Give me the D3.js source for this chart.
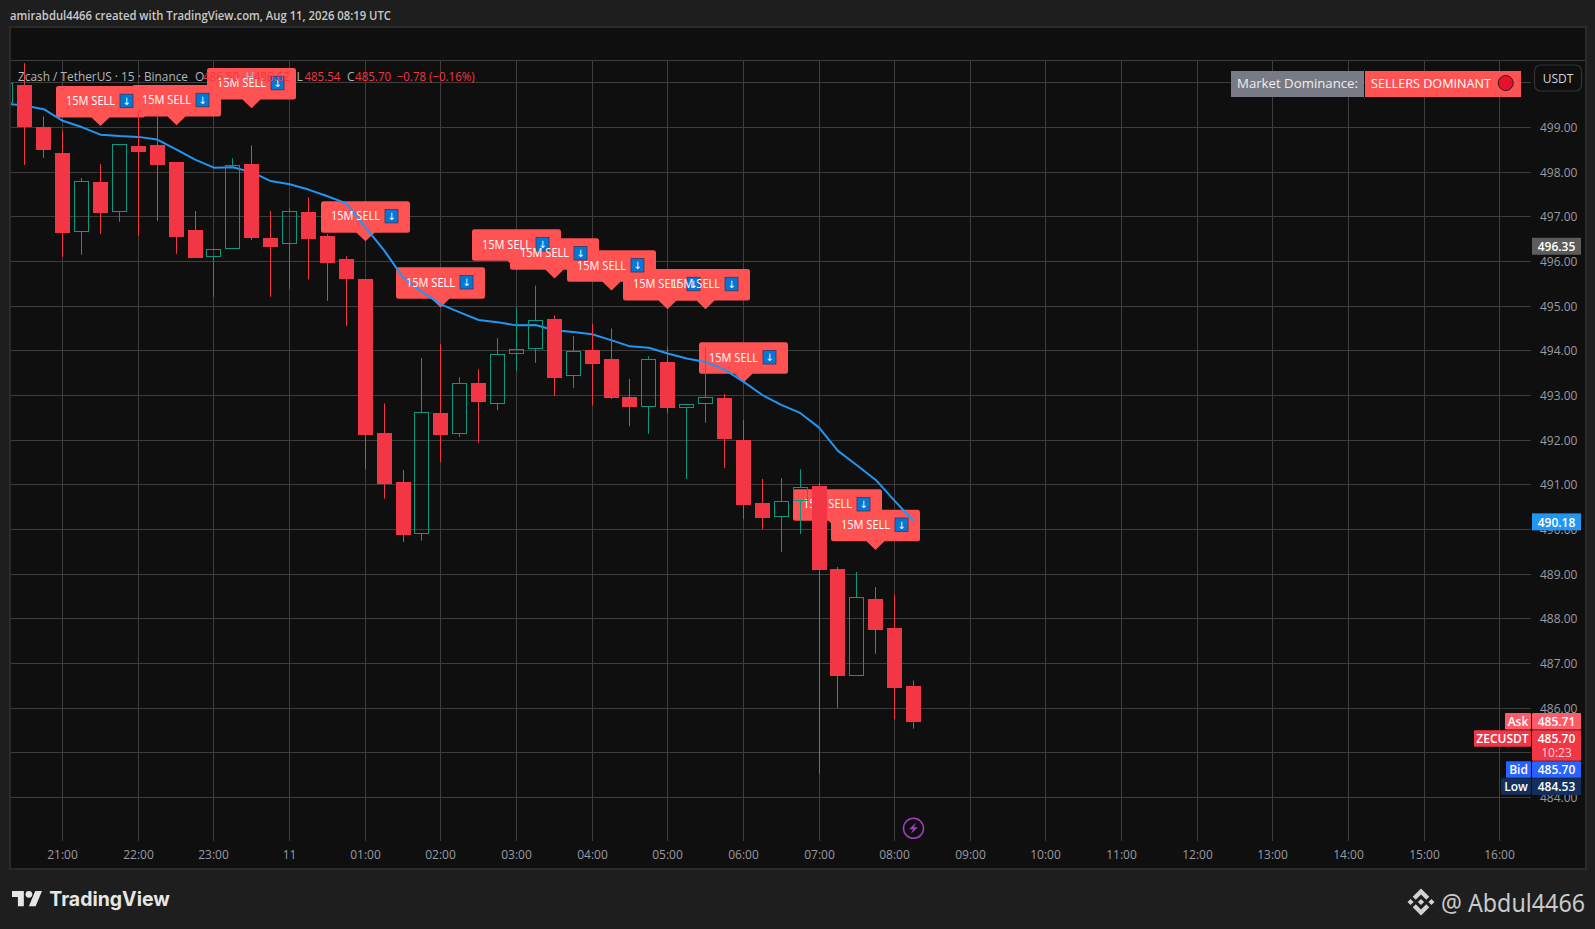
<!DOCTYPE html>
<html><head><meta charset="utf-8">
<script src="https://cdn.jsdelivr.net/npm/d3@7/dist/d3.min.js"></script>
<style>html,body{margin:0;padding:0;background:#1e1e1e;overflow:hidden}svg{display:block}</style>
</head><body><svg id="c" width="1595" height="929"></svg>
<script>
// Candle values, bar index 0 = 20:30, 15 minutes per bar; bar -1 is cut by the pane edge
const firstBar = -1;
const opens  = [499.54,499.95,499.01,498.42,496.65,497.78,497.10,498.58,498.60,498.22,496.70,496.09,496.29,498.18,496.52,496.40,497.10,496.57,496.05,495.60,492.16,491.06,489.89,492.60,492.13,493.28,492.80,493.94,494.03,494.71,493.43,494.02,493.81,492.96,492.75,493.76,492.73,492.82,492.94,492.00,490.59,490.27,490.63,490.98,489.11,486.73,488.44,487.79,486.50];
const highs  = [499.99,500.44,499.25,498.94,497.87,498.18,498.62,499.37,499.30,498.22,497.13,496.29,498.31,498.60,497.13,497.19,497.44,496.61,496.12,495.60,492.82,491.33,493.84,494.15,493.41,493.59,494.28,494.98,495.46,494.79,494.33,494.61,494.50,493.37,493.88,494.10,492.82,494.09,493.03,492.45,491.13,491.15,491.35,491.05,489.16,489.05,488.71,488.55,486.62];
const lows   = [499.54,498.16,498.32,496.10,496.15,496.62,496.89,496.57,496.91,496.17,496.08,495.21,496.29,496.48,495.21,495.39,495.60,495.12,494.56,491.36,490.69,489.72,489.75,491.51,492.07,491.94,492.67,493.55,493.73,492.99,493.17,492.78,492.92,492.31,492.14,492.61,491.13,492.39,491.38,490.23,490.01,489.50,489.90,484.53,486.01,486.73,487.22,485.75,485.54];
const closes = [499.99,499.01,498.50,496.64,497.81,497.09,498.62,498.45,498.16,496.54,496.08,496.29,498.17,496.53,496.33,497.12,496.51,495.97,495.61,492.12,491.02,489.88,492.64,492.11,493.29,492.85,493.94,494.03,494.70,493.39,494.00,493.71,492.95,492.74,493.81,492.72,492.82,492.96,492.03,490.54,490.26,490.63,490.96,489.10,486.72,488.50,487.75,486.45,485.70];
const emaValues = [499.53,499.49,499.41,499.15,499.01,498.84,498.81,498.79,498.73,498.51,498.28,498.10,498.11,498.00,497.80,497.73,497.61,497.46,497.30,496.77,496.25,495.64,495.32,495.04,494.86,494.69,494.64,494.57,494.58,494.46,494.42,494.37,494.24,494.10,494.07,493.94,493.83,493.75,493.58,493.31,493.01,492.79,492.61,492.28,491.76,491.44,491.11,490.64,490.19];

const signalBars   = [4,8,12,18,22,26,28,31,34,36,38,43,45];
const signalPrices = [499.02,499.04,499.42,496.44,494.96,495.81,495.61,495.34,494.92,494.92,493.28,489.99,489.53];
const signalText = "15M SELL";
const signalIcon = "↓";

const timeTickBars   = [2,6,10,14,18,22,26,30,34,38,42,46,50,54,58,62,66,70,74,78];
const timeTickLabels = ["21:00","22:00","23:00","11","01:00","02:00","03:00","04:00","05:00","06:00","07:00","08:00","09:00","10:00","11:00","12:00","13:00","14:00","15:00","16:00"];
const priceTicks = [484,485,486,487,488,489,490,491,492,493,494,495,496,497,498,499,500];

const headerText = "amirabdul4466 created with TradingView.com, Aug 11, 2026 08:19 UTC";
const legendName = "Zcash / TetherUS · 15 · Binance";
const legendOHLC = [["O","486.50"],["H","486.62"],["L","485.54"],["C","485.70"]];
const legendChange = "−0.78 (−0.16%)";
const priceTags = [
  {price:496.35,text:"496.35",fill:"#5c5c5c",color:"#ffffff"},
  {price:490.18,text:"490.18",fill:"#2196f3",color:"#ffffff"}
];

const C = {outer:"#1e1e1e",pane:"#0f0f0f",frame:"#2a2a2a",grid:"#3e3e3e",up:"#089981",down:"#f23645",ema:"#2196f3",sig:"#ff5252",txt:"#b2b5be",axis:"#999ba3"};
const FONT = "'Open Sans','Noto Sans',sans-serif";

const svg = d3.select("#c").style("font-family",FONT);
const x = d3.scaleLinear().domain([2,46]).range([62.7,894.7]);
const y = d3.scaleLinear().domain([499,484]).range([127.5,797.5]);
const px = v => Math.floor(v);
const barIdx = d3.range(opens.length).map(k => k + firstBar);

function label(g,tx,ty,s,o={}){
  const t = g.append("text").attr("x",tx).attr("y",ty).text(s)
    .attr("font-size",o.size||12).attr("fill",o.fill||C.txt)
    .attr("dominant-baseline","central")
    .attr("text-anchor",o.anchor||"start")
    .attr("font-weight",o.weight||400);
  if(o.len) t.attr("textLength",o.len).attr("lengthAdjust","spacingAndGlyphs");
  return t;
}

// page and pane
svg.append("rect").attr("width",1595).attr("height",929).attr("fill",C.outer);
svg.append("rect").attr("x",10).attr("y",27).attr("width",1576).attr("height",842)
  .attr("fill",C.pane).attr("stroke",C.frame).attr("stroke-width",2);
svg.append("line").attr("x1",11).attr("x2",1585).attr("y1",60.5).attr("y2",60.5).attr("stroke",C.grid);

const defs = svg.append("defs");
defs.append("clipPath").attr("id","pane").append("rect").attr("x",11).attr("y",61).attr("width",1520).attr("height",780);

// grid with axes
const gx = svg.append("g").attr("transform","translate(0,841)").call(
  d3.axisBottom(x).tickValues(timeTickBars).tickSize(-780).tickPadding(8)
    .tickFormat((d,i)=>timeTickLabels[i]));
gx.select(".domain").remove();
gx.selectAll(".tick").attr("transform",d=>`translate(${px(x(d))+.5},0)`);
gx.selectAll(".tick line").attr("stroke",C.grid);
gx.selectAll(".tick text").attr("fill",C.axis).attr("font-size",12).attr("font-family",FONT).attr("dy",".85em");

const gy = svg.append("g").attr("transform","translate(1531,0)").call(
  d3.axisRight(y).tickValues(priceTicks).tickSize(-1520).tickPadding(9)
    .tickFormat(d=>d.toFixed(2)));
gy.select(".domain").remove();
gy.selectAll(".tick").attr("transform",d=>`translate(0,${px(y(d))+.5})`);
gy.selectAll(".tick line").attr("stroke",C.grid);
gy.selectAll(".tick text").attr("fill",C.axis).attr("font-size",12).attr("font-family",FONT).attr("transform","translate(0,1)");

// chart layers: signal boxes, EMA, signal text, candles
const plot = svg.append("g").attr("clip-path","url(#pane)");
const BW=89,BH=31.5,TIP=8.7;
const signals = d3.zip(signalBars,signalPrices);
plot.append("g").selectAll("path").data(signals).join("path").attr("fill",C.sig)
  .attr("d",([b,p])=>{
    const cx=px(x(b))+.5, ty=y(p)-.5, top=ty-TIP-BH, l=cx-BW/2, r=cx+BW/2, bot=ty-TIP, a=2.5;
    return `M${l+a},${top}H${r-a}Q${r},${top} ${r},${top+a}V${bot-a}Q${r},${bot} ${r-a},${bot}H${cx+9}L${cx},${ty}L${cx-9},${bot}H${l+a}Q${l},${bot} ${l},${bot-a}V${top+a}Q${l},${top} ${l+a},${top}Z`;
  });
plot.append("path").attr("fill","none").attr("stroke",C.ema).attr("stroke-width",2)
  .attr("stroke-linejoin","round")
  .attr("d",d3.line().x((d,k)=>x(barIdx[k])).y(d=>y(d))(emaValues));
const st = plot.append("g");
signals.forEach(([b,p])=>{
  const cx=px(x(b))+.5, mid=y(p)-.5-TIP-BH/2, l=cx-BW/2;
  label(st,l+10,mid-1,signalText,{fill:"#ffffff",size:12,len:49});
  st.append("rect").attr("x",l+64).attr("y",mid-7.5).attr("width",13).attr("height",13.5)
    .attr("fill","#0078d7").attr("stroke","#3f3557").attr("stroke-width",.8);
  label(st,l+70.5,mid-0.5,signalIcon,{fill:"#ffffff",size:10,anchor:"middle"}).attr("font-family","'DejaVu Sans'");
});
const candles = plot.append("g").selectAll("g").data(barIdx).join("g");
candles.each(function(b,k){
  const g=d3.select(this), up=closes[k]>=opens[k], col=up?C.up:C.down, cx=px(x(b));
  const t=Math.round(y(Math.max(opens[k],closes[k]))), bo=Math.round(y(Math.min(opens[k],closes[k])));
  if(up){
    // hollow body: the wick stops at the body edges
    g.append("line").attr("x1",cx+.5).attr("x2",cx+.5).attr("stroke",col).attr("y1",y(highs[k])).attr("y2",t);
    g.append("line").attr("x1",cx+.5).attr("x2",cx+.5).attr("stroke",col).attr("y1",bo).attr("y2",y(lows[k]));
    g.append("rect").attr("x",cx-7+.5).attr("y",t+.5).attr("width",14).attr("height",Math.max(bo-t-1,1))
      .attr("fill","none").attr("stroke",col);
  } else {
    g.append("line").attr("x1",cx+.5).attr("x2",cx+.5).attr("stroke",col).attr("y1",y(highs[k])).attr("y2",y(lows[k]));
    g.append("rect").attr("x",cx-7).attr("y",t).attr("width",15).attr("height",Math.max(bo-t,1)).attr("fill",col);
  }
});

// top caption and chart legend
label(svg,10,15,headerText,{fill:"#c9c9c9",size:12,weight:600,len:381});
let lg = svg.append("g");
label(lg,18,76,legendName,{fill:C.txt,len:170});
let lx=195;
legendOHLC.forEach(([k,v])=>{
  label(lg,lx,76,k,{fill:C.txt});
  label(lg,lx+8,76,v,{fill:C.down,len:36});
  lx+=50.7;
});
label(lg,396.7,76,legendChange,{fill:C.down,len:78});

// market dominance
const md = svg.append("g");
md.append("rect").attr("x",1231).attr("y",71).attr("width",133).attr("height",26).attr("fill","#787b86");
md.append("rect").attr("x",1365).attr("y",71).attr("width",156).attr("height",26).attr("fill",C.sig);
label(md,1237,82.5,"Market Dominance:",{fill:"#eeeeee",size:13,len:121});
label(md,1371,82.5,"SELLERS DOMINANT",{fill:"#ffffff",size:13,len:120});
md.append("circle").attr("cx",1505.7).attr("cy",83).attr("r",7.5).attr("fill","#e8112d").attr("stroke","#222").attr("stroke-width",1);

// USDT button
svg.append("rect").attr("x",1534.5).attr("y",65).attr("width",47).attr("height",26).attr("rx",6)
  .attr("fill",C.pane).attr("stroke","#333333").attr("stroke-width",1.2);
label(svg,1558,78.5,"USDT",{fill:"#d1d4dc",size:12,anchor:"middle"});

// price tags
const TX=1532,TW=49,TC=1556.5;
priceTags.forEach(t=>{
  const cy=y(t.price)+.4;
  svg.append("rect").attr("x",TX).attr("y",cy-8.5).attr("width",TW).attr("height",17).attr("fill",t.fill);
  label(svg,TC,cy+.6,t.text,{fill:t.color,anchor:"middle",weight:600});
});
function sideTag(name,val,w,top,h,lf,rf,extra){
  svg.append("rect").attr("x",1531-w).attr("y",top).attr("width",w).attr("height",16.5).attr("fill",lf).attr("rx",1);
  svg.append("rect").attr("x",TX).attr("y",top).attr("width",TW).attr("height",h).attr("fill",rf).attr("rx",1);
  label(svg,1531-w/2,top+8.3,name,{fill:"#ffffff",anchor:"middle",weight:600});
  label(svg,TC,top+8.3,val,{fill:"#ffffff",anchor:"middle",weight:600});
  if(extra) label(svg,TC,top+22.5,extra,{fill:"#ffd0d4",anchor:"middle"});
}
sideTag("Ask","485.71",26,713,16.5,"#ff5a68","#ff5a68");
sideTag("ZECUSDT","485.70",57,730.3,30.4,C.down,C.down,"10:23");
sideTag("Bid","485.70",25,761.2,16.5,"#2962ff","#2962ff");
sideTag("Low","484.53",30,778.2,16.8,"#132f5e","#132f5e");

// bolt marker
const bolt = svg.append("g").attr("transform","translate(913.5,828.3)");
bolt.append("circle").attr("r",10).attr("fill","none").attr("stroke","#a63cc4").attr("stroke-width",1.5);
bolt.append("path").attr("d","M2.5,-5.5L-4.5,1H-0.5L-2.5,5.5L4.5,-1H0.5Z").attr("fill","#a63cc4");

// footer
const logo = svg.append("g").attr("transform","translate(12,887.6) scale(.845)").attr("fill","#e6e6e6");
logo.append("path").attr("d","M14 22H7V11H0V4h14v18zM28 22h-8l7.5-18h8L28 22z");
logo.append("circle").attr("cx",20).attr("cy",8).attr("r",4);
label(svg,49.3,899,"TradingView",{fill:"#e6e6e6",size:20,weight:700,len:120.5}).attr("font-family","Inter,'Open Sans'");
svg.append("path").attr("transform","translate(1407.5,888.5) scale(.844)").attr("fill","#d2d2d2")
  .attr("d","M9.79 13.45L16 7.24l6.21 6.21 3.61-3.61L16 0 6.18 9.82l3.61 3.63zM0 16l3.62-3.62L7.24 16l-3.62 3.62L0 16zm9.79 2.55L16 24.76l6.21-6.21 3.61 3.61L16 32l-9.82-9.82 3.61-3.63zM24.76 16l3.62-3.62L32 16l-3.62 3.62L24.76 16zm-5.09 0L16 12.33 12.33 16 16 19.67 19.67 16z");
label(svg,1441,902,"@ Abdul4466",{fill:"#c9c9c9",size:25,len:144}).attr("font-family","'Noto Sans'");
</script></body></html>
